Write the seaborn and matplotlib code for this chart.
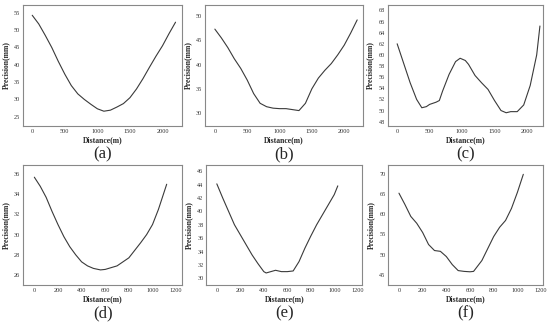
import matplotlib
matplotlib.use("Agg")
import matplotlib.pyplot as plt
import numpy as np
import pandas as pd
import seaborn as sns

# values
dist_long = [0, 100, 200, 300, 400, 500, 600, 700, 800, 900, 1000, 1100,
             1200, 1300, 1400, 1500, 1600, 1700, 1800, 1900, 2000, 2100, 2200]
prec_a = [54.3, 51.8, 48.5, 45.0, 41.0, 37.3, 34.0, 31.6, 30.0, 28.6, 27.3, 26.6,
          26.9, 27.8, 28.8, 30.5, 33.0, 36.0, 39.3, 42.5, 45.5, 49.0, 52.3]
prec_b = [47.3, 45.5, 43.5, 41.2, 39.2, 36.8, 34.0, 32.0, 31.3, 31.0, 30.9, 30.9,
          30.7, 30.5, 32.0, 35.0, 37.2, 38.8, 40.2, 42.0, 44.0, 46.5, 49.2]

dist_c = [0, 100, 200, 300, 380, 450, 500, 600, 650, 700, 800, 900, 970, 1050,
          1100, 1200, 1300, 1400, 1500, 1600, 1680, 1750, 1850, 1950, 2050, 2150, 2200]
prec_c = [62.0, 58.5, 55.0, 52.0, 50.5, 50.7, 51.1, 51.5, 51.8, 53.5, 56.5, 58.8, 59.4, 59.0,
          58.3, 56.3, 55.0, 53.8, 51.8, 50.0, 49.6, 49.8, 49.8, 51.0, 54.5, 60.0, 65.2]

dist_d = [0, 50, 100, 150, 200, 250, 300, 350, 400, 450, 500, 560, 600,
          700, 800, 900, 950, 1000, 1050, 1120]
prec_d = [35.7, 34.8, 33.7, 32.3, 31.0, 29.8, 28.8, 28.0, 27.3, 26.9, 26.65, 26.5, 26.55,
          26.9, 27.7, 29.2, 30.0, 31.0, 32.5, 35.0]

dist_e = [0, 50, 100, 150, 200, 250, 300, 350, 400, 420, 460, 500, 550, 600,
          650, 700, 750, 800, 850, 900, 950, 1000, 1030]
prec_e = [44.1, 42.0, 40.0, 38.0, 36.5, 35.0, 33.5, 32.2, 31.0, 30.8, 31.0, 31.2, 31.0, 31.0,
          31.1, 32.5, 34.5, 36.3, 38.0, 39.5, 41.0, 42.5, 43.8]

dist_f = [0, 50, 100, 150, 200, 250, 300, 350, 400, 450, 500, 550, 600, 630,
          700, 750, 800, 850, 900, 950, 1000, 1050]
prec_f = [65.3, 62.5, 59.5, 57.8, 55.5, 52.5, 51.0, 50.8, 49.5, 47.5, 46.0, 45.8, 45.7, 45.8,
          48.5, 51.5, 54.5, 56.8, 58.5, 61.5, 65.5, 70.0]

panels = [
    ("(a)", dist_long, prec_a, [0.042, 0.612, 0.289, 0.373], (-140, 2300), (22.3, 57.3),
     [0, 500, 1000, 1500, 2000], [25, 30, 35, 40, 45, 50, 55]),
    ("(b)", dist_long, prec_b, [0.373, 0.612, 0.287, 0.373], (-150, 2290), (27.3, 52.3),
     [0, 500, 1000, 1500, 2000], [30, 35, 40, 45, 50]),
    ("(c)", dist_c, prec_c, [0.705, 0.612, 0.282, 0.373], (-145, 2245), (47.2, 69.0),
     [0, 500, 1000, 1500, 2000], list(range(48, 69, 2))),
    ("(d)", dist_d, prec_d, [0.042, 0.123, 0.289, 0.369], (-95, 1250), (25.0, 36.9),
     [0, 200, 400, 600, 800, 1000, 1200], [26, 28, 30, 32, 34, 36]),
    ("(e)", dist_e, prec_e, [0.375, 0.123, 0.284, 0.369], (-90, 1240), (29.0, 46.9),
     [0, 200, 400, 600, 800, 1000, 1200], list(range(30, 47, 2))),
    ("(f)", dist_f, prec_f, [0.706, 0.123, 0.281, 0.369], (-90, 1215), (42.4, 72.3),
     [0, 200, 400, 600, 800, 1000, 1200], [45, 50, 55, 60, 65, 70]),
]

sns.set_style("white")
plt.rcParams["font.family"] = ["Liberation Serif", "DejaVu Serif"]

fig = plt.figure(figsize=(5.5, 3.25), dpi=100)

for label, x, y, rect, xlim, ylim, xticks, yticks in panels:
    ax = fig.add_axes(rect)
    df = pd.DataFrame({"Distance": x, "Precision": y})
    sns.lineplot(data=df, x="Distance", y="Precision", color="#3a3a3a", lw=0.8, ax=ax)
    ax.set_xlim(*xlim)
    ax.set_ylim(*ylim)
    ax.set_xticks(xticks)
    ax.set_yticks(yticks)
    ax.tick_params(direction="in", length=1.5, width=0.5, labelsize=4.5, pad=2,
                   colors="#333333")
    for sp in ax.spines.values():
        sp.set_color("#888888")
        sp.set_linewidth(0.8)
    ax.set_xlabel("Distance(m)", fontsize=5.5, fontweight="bold", labelpad=2)
    ax.set_ylabel("Precision(mm)", fontsize=5.5, fontweight="bold", labelpad=3)
    ax.text(0.5, -0.235, label, transform=ax.transAxes, ha="center", va="center", fontsize=12)

fig.savefig("out.png", dpi=100)
